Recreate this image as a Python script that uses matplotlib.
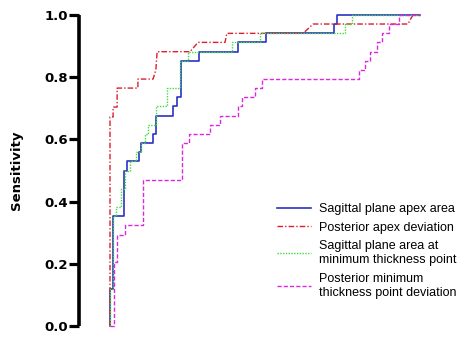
#!/usr/bin/env python3
# -*- coding: utf-8 -*-

#------------------------------------------------------------------------------
# ROC curves: sensitivity vs 1-specificity (x axis hidden)
#------------------------------------------------------------------------------

import numpy as np
import matplotlib
matplotlib.use('Agg')
import matplotlib.pyplot as plt; plt.close('all')

#------------------------------------------------------------------------------
# DATA (1-specificity, sensitivity)
#------------------------------------------------------------------------------

# step curves: x where sensitivity rises, new sensitivity
apex_area_fpr = [0, 0, 0.010, 0.045, 0.055, 0.094, 0.100, 0.139, 0.148, 0.203, 0.216, 0.229, 0.287, 0.413, 0.503, 0.723, 0.732, 1.0]
apex_area_tpr = [0, 0.118, 0.353, 0.500, 0.529, 0.559, 0.588, 0.618, 0.676, 0.706, 0.735, 0.853, 0.882, 0.912, 0.941, 0.971, 1.0, 1.0]

min_area_fpr = [0, 0, 0.010, 0.019, 0.035, 0.048, 0.065, 0.085, 0.100, 0.113, 0.123, 0.148, 0.184, 0.226, 0.252, 0.394, 0.484, 0.758, 0.781, 1.0]
min_area_tpr = [0, 0.118, 0.353, 0.382, 0.441, 0.500, 0.529, 0.559, 0.588, 0.618, 0.647, 0.706, 0.765, 0.853, 0.882, 0.912, 0.941, 0.971, 1.0, 1.0]

min_dev_fpr = [0, 0.013, 0.023, 0.048, 0.106, 0.232, 0.255, 0.323, 0.355, 0.413, 0.426, 0.468, 0.490, 0.803, 0.823, 0.839, 0.861, 0.877, 0.900, 0.932, 1.0]
min_dev_tpr = [0, 0.206, 0.294, 0.324, 0.471, 0.588, 0.618, 0.647, 0.676, 0.706, 0.735, 0.765, 0.794, 0.824, 0.853, 0.882, 0.912, 0.941, 0.971, 1.0, 1.0]

# this one has tied points (slanted segments), so keep every vertex
apex_dev_fpr = [0, 0, 0.010, 0.010, 0.023, 0.023, 0.090, 0.090, 0.139, 0.148, 0.152, 0.258, 0.284, 0.371, 0.377, 0.623, 0.655, 0.961, 0.977, 1.0]
apex_dev_tpr = [0, 0.672, 0.672, 0.704, 0.704, 0.765, 0.765, 0.794, 0.794, 0.824, 0.882, 0.882, 0.912, 0.912, 0.941, 0.941, 0.971, 0.971, 1.0, 1.0]

labels = ['Sagittal plane apex area',
          'Posterior apex deviation',
          'Sagittal plane area at\nminimum thickness point',
          'Posterior minimum\nthickness point deviation']

yticks = [0.0, 0.2, 0.4, 0.6, 0.8, 1.0]

#------------------------------------------------------------------------------
# PLOT
#------------------------------------------------------------------------------

fig = plt.figure(figsize=(4.74, 3.5), dpi=100)
ax = fig.add_axes([79/474, 24/350, 341/474, 311/350])

ax.plot(apex_area_fpr, apex_area_tpr, drawstyle='steps-post', color='#2a32c4', lw=1.2, clip_on=False, label=labels[0])
ax.plot(apex_dev_fpr, apex_dev_tpr, color='#dc1e2e', lw=1.0, dashes=(4, 1.5, 1, 1.5), clip_on=False, label=labels[1])
ax.plot(min_area_fpr, min_area_tpr, drawstyle='steps-post', color='#3fdc3f', lw=1.0, dashes=(1, 1), clip_on=False, label=labels[2])
ax.plot(min_dev_fpr, min_dev_tpr, drawstyle='steps-post', color='#dc28dc', lw=1.0, dashes=(3, 1.5), clip_on=False, label=labels[3])

ax.set_xlim(-0.1, 1.0)
ax.set_ylim(0, 1)
ax.set_xticks([])
ax.set_yticks(yticks)
ax.set_yticklabels(['%.1f' % t for t in yticks], fontsize=9.5, fontweight='bold', family='DejaVu Sans')
ax.tick_params(axis='y', length=7, width=2.3, pad=1)
for s in ['top', 'right', 'bottom']:
    ax.spines[s].set_visible(False)
ax.spines['left'].set_linewidth(2.6)
ax.spines['left'].set_capstyle('butt')

fig.text(17/474, 0.5 + (175-170)/350, 'Sensitivity', rotation=90, ha='center', va='center',
         fontsize=9.5, fontweight='bold', family='DejaVu Sans')

leg = ax.legend(loc='upper left', bbox_to_anchor=(271/474, 1 - 197/350), bbox_transform=fig.transFigure,
                frameon=False, borderpad=0, handlelength=2.7, handletextpad=0.65, labelspacing=0.5,
                prop={'family': 'Liberation Sans', 'size': 9.0})
for t in leg.get_texts():
    t.set_linespacing(1.3)

plt.savefig('out.png', dpi=100)
print('** END')
